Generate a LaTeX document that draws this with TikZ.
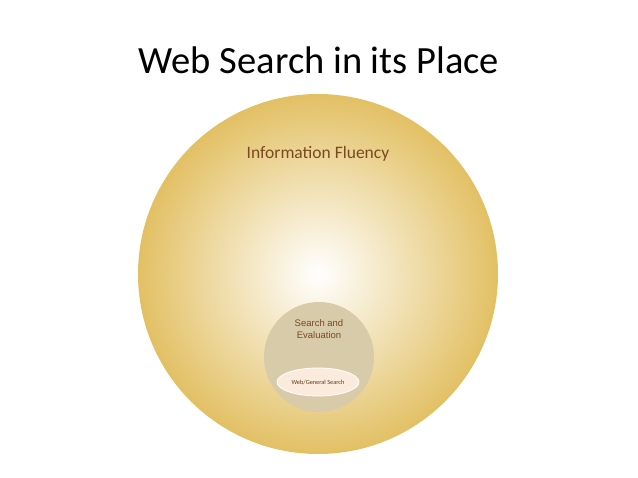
\documentclass[tikz,border=0pt]{standalone}
\usepackage{fontspec}
\setmainfont{Carlito}
\newfontfamily\arialf{Liberation Sans}
\definecolor{gold}{HTML}{E2C064}
\definecolor{inner}{HTML}{D8CBAA}
\definecolor{ell}{HTML}{FAEBDD}
\definecolor{txt}{HTML}{7A4A1E}
\begin{document}
\begin{tikzpicture}[x=1pt,y=-1pt]
\useasboundingbox (0,0) rectangle (638,478);
\node (title) at (319,60) {\fontsize{38.5}{44}\selectfont Web Search in its Place};
\shade[inner color=white, outer color=gold] (318,274) circle (180);
\node[text=txt] (info) at (318,154) {\fontsize{17.5}{20}\selectfont Information Fluency};
\fill[inner] (319,357) circle (55);
\node[text=txt, align=center, font=\arialf\fontsize{9.5}{12}\selectfont] (se) at (319,329) {Search and\\Evaluation};
\draw[white, fill=ell, line width=0.8] (318,382) ellipse (41 and 14);
\node[text=txt!80!black, font=\fontsize{6.3}{7}\selectfont] (web) at (318,382) {Web/General Search};
\end{tikzpicture}
\end{document}
